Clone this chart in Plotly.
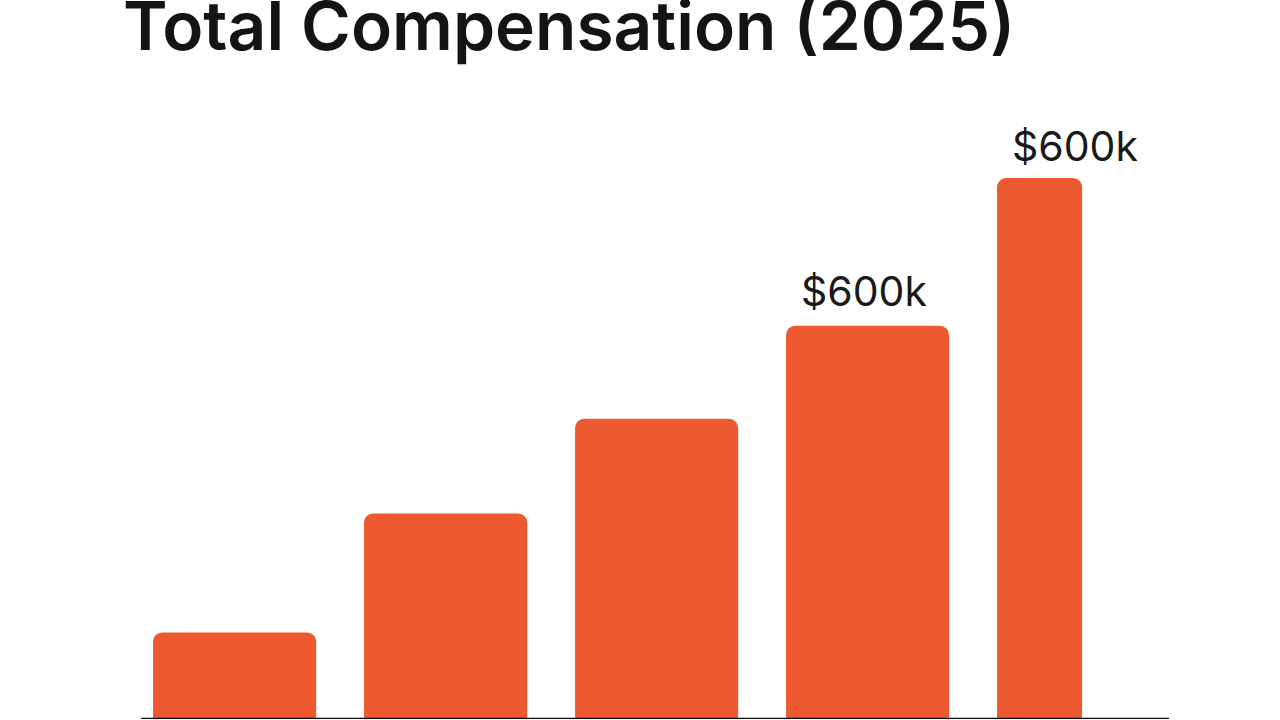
import plotly.graph_objects as go

CATEGORIES = ["A", "B", "C", "D", "E"]
VALUES = [96, 228, 333, 436, 600]
BAR_WIDTHS = [0.773, 0.773, 0.773, 0.773, 0.403]
LABELS = ["$600k", "$600k"]
LABEL_BARS = [3, 4]
LABEL_XSHIFTS = [-4, -4]
LABEL_YSHIFTS = [8, 5]

ORANGE = "#EE5A30"
INK = "#1A1A1A"
FONT = "Inter"

fig = go.Figure()
fig.add_trace(go.Bar(
    x=CATEGORIES,
    y=VALUES,
    width=BAR_WIDTHS,
    offset=-0.386,
    marker=dict(color=ORANGE, cornerradius=9, line_width=0),
    hoverinfo="skip",
))

for label, bar, xshift, yshift in zip(LABELS, LABEL_BARS, LABEL_XSHIFTS, LABEL_YSHIFTS):
    fig.add_annotation(
        x=CATEGORIES[bar], y=VALUES[bar], text=label,
        xref="x", yref="y", showarrow=False,
        xshift=xshift, yshift=yshift, yanchor="bottom",
        font=dict(family=FONT, size=41, color=INK),
    )

fig.update_layout(
    width=1280,
    height=720,
    autosize=False,
    paper_bgcolor="white",
    plot_bgcolor="white",
    showlegend=False,
    margin=dict(l=0, r=0, t=0, b=0, pad=0),
    title=dict(
        text="Total Compensation (2025)",
        x=0.096, xanchor="left", xref="paper",
        y=0.964, yanchor="middle", yref="paper",
        font=dict(family=FONT, size=67.6, color="#141414", weight=600),
    ),
)
# plot area is placed so one category step comes out at 211 px
fig.update_xaxes(
    domain=[129 / 1280, 1184 / 1280],
    range=[-0.5, 4.5],
    showticklabels=False, ticks="", showgrid=False, zeroline=False,
    showline=False,
)
fig.update_yaxes(
    domain=[1 / 720, 1],
    range=[0, 600 * 719 / 541],
    showticklabels=False, ticks="", showgrid=False, zeroline=False,
    showline=False,
)
fig.add_shape(
    type="line", xref="paper", yref="y",
    x0=141 / 1280, x1=1169 / 1280, y0=0, y1=0,
    line=dict(color="#0C0C0C", width=2.5),
)

# the page body has a default margin, drop it so the figure fills the window
fig.write_html(
    "out.html",
    config=dict(displayModeBar=False),
    post_script="document.body.style.margin = '0';",
)
